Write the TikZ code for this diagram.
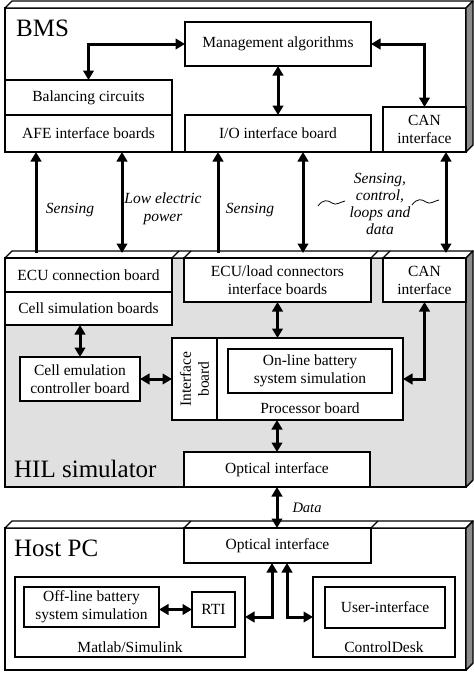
\documentclass[tikz,border=0pt]{standalone}
\usepackage{fontspec}
\setmainfont{Liberation Serif}
\usetikzlibrary{arrows.meta,calc}
\newcommand\nfont{\fontsize{15.5}{18}\selectfont}
\newcommand\bigfont{\fontsize{25}{28}\selectfont}
\definecolor{hilgray}{HTML}{E0E0E0}
\definecolor{sidegray}{HTML}{8C8C8C}
\begin{document}
\begin{tikzpicture}[x=1pt,y=-1pt,
  bigbox/.style={draw, line width=1.5pt, fill=white, inner sep=0pt, outer sep=0pt},
  box/.style={draw, line width=1.4pt, fill=white, inner sep=0pt, outer sep=0pt, align=center, font=\nfont},
  txt/.style={align=center, font=\nfont, inner sep=0pt},
  lab/.style={align=center, font=\nfont\itshape, inner sep=0pt},
  title/.style={anchor=west, font=\bigfont, inner sep=0pt},
  face/.style={line width=1.4pt, fill=white, line join=round},
  side/.style={line width=1.4pt, fill=sidegray, line join=round},
  slant/.style={line width=1.4pt},
  arr/.style={line width=3pt, {Triangle[length=9.5pt,width=10.5pt]}-{Triangle[length=9.5pt,width=10.5pt]}},
  uparr/.style={line width=3pt, -{Triangle[length=9.5pt,width=10.5pt]}},
  wave/.style={line width=0.8pt}]
\useasboundingbox (0,0) rectangle (474,673);

% ---------- big 3D boxes ----------
\node[bigbox, minimum width=461pt, minimum height=144pt] (bms) at (235.5,80) {};
\node[bigbox, fill=hilgray, minimum width=461pt, minimum height=229pt] (hil) at (235.5,372.5) {};
\node[bigbox, minimum width=461pt, minimum height=142pt] (host) at (235.5,599) {};
\foreach \b in {bms,hil,host} {
  \draw[face] (\b.north west) -- ++(7,-7) -- ([shift={(7,-7)}]\b.north east) -- (\b.north east) -- cycle;
  \draw[side] (\b.north east) -- ++(7,-7) -- ([shift={(7,-7)}]\b.south east) -- (\b.south east) -- cycle;
}

% ---------- BMS ----------
\node[title] (bmslab) at (16,28) {BMS};
\node[box, minimum width=186pt, minimum height=44pt] (mgmt) at (278,44) {Management algorithms};
\node[box, minimum width=167pt, minimum height=35pt] (bal) at (88.5,97.5) {Balancing circuits};
\node[box, minimum width=167pt, minimum height=37pt] (afe) at (88.5,133.5) {AFE interface boards};
\node[box, minimum width=186pt, minimum height=37pt] (io) at (278,133.5) {I/O interface board};
\node[box, minimum width=83pt, minimum height=45pt] (canb) at (424.5,129.5) {CAN\\interface};

\draw[arr] (bal.north) |- (mgmt.west);
\draw[arr] (mgmt.east) -| (canb.north);
\draw[arr] (mgmt.south) -- (io.north);

% ---------- HIL ----------
\node[box, minimum width=167pt, minimum height=34pt] (ecuc) at (88.5,275) {ECU connection board};
\node[box, minimum width=167pt, minimum height=33pt] (cellsim) at (88.5,308.5) {Cell simulation boards};
\node[box, minimum width=187pt, minimum height=44pt] (ecul) at (277.5,280) {ECU/load connectors\\interface boards};
\node[box, minimum width=83pt, minimum height=44pt] (canh) at (424.5,280) {CAN\\interface};
\foreach \c in {ecuc.north east, ecul.north west, ecul.north east, canh.north west}
  \draw[slant] (\c) -- ++(7,-7);
\node[box, minimum width=120pt, minimum height=44pt] (cellemu) at (80,379) {Cell emulation\\controller board};
\node[box, minimum width=45pt, minimum height=82pt] (ifb) at (194.5,379) {};
\node[txt, rotate=90] (ifbtxt) at (ifb.center) {Interface\\board};
\node[box, minimum width=186pt, minimum height=82pt] (proc) at (310,379) {};
\node[txt] (proclab) at (310,408) {Processor board};
\node[box, line width=2.2pt, minimum width=164pt, minimum height=44pt] (online) at (310,371) {On-line battery\\system simulation};
\node[box, minimum width=186pt, minimum height=35pt] (opth) at (277,469.5) {Optical interface};
\node[title] (hillab) at (14,469) {HIL simulator};

\draw[arr] (cellemu.north) -- (cellemu.north |- cellsim.south);
\draw[arr] (cellemu.east) -- (ifb.west);
\draw[arr] (ecul.south) -- (ecul.south |- proc.north);
\draw[arr] (canh.south) |- (proc.east);
\draw[arr] (opth.north |- proc.south) -- (opth.north);

% ---------- links BMS - HIL ----------
\coordinate (l1) at ([xshift=31pt,yshift=5pt]ecuc.north west);
\coordinate (l2) at ([xshift=117pt,yshift=5pt]ecuc.north west);
\coordinate (l3) at ([xshift=34pt,yshift=5pt]ecul.north west);
\coordinate (l4) at ([xshift=119pt,yshift=5pt]ecul.north west);
\coordinate (l5) at ([xshift=63pt,yshift=5pt]canh.north west);
\draw[uparr] (l1) -- (l1 |- afe.south);
\draw[arr] (l2) -- (l2 |- afe.south);
\draw[uparr] (l3) -- (l3 |- io.south);
\draw[arr] (l4) -- (l4 |- io.south);
\draw[arr] (l5) -- (l5 |- canb.south);

\node[lab] (sens1) at (70,210) {Sensing};
\node[lab] (lowp) at (163,209) {Low electric\\power};
\node[lab] (sens2) at (250,210) {Sensing};
\node[lab, font=\fontsize{15.5}{17}\selectfont\itshape] (sens3) at (380,204) {Sensing,\\control,\\loops and\\data};
\draw[wave] (318,206) .. controls (323,199) and (328,200) .. (332,203) .. controls (336,206) and (340,202) .. (345,201);
\draw[wave] (412,205) .. controls (417,198) and (422,199) .. (426,202) .. controls (430,205) and (434,201) .. (439,200);

% ---------- Host PC ----------
\node[box, minimum width=187pt, minimum height=35pt] (opt) at (277.5,545.5) {Optical interface};
\foreach \c in {opt.north west, opt.north east}
  \draw[slant] (\c) -- ++(7,-7);
\node[title] (hostlab) at (14,548) {Host PC};
\node[box, minimum width=230pt, minimum height=80pt] (matlab) at (130,617) {};
\node[txt] (matlablab) at (130,647) {Matlab/Simulink};
\node[box, minimum width=135pt, minimum height=40pt] (offline) at (91.5,607) {Off-line battery\\system simulation};
\node[box, minimum width=43pt, minimum height=35pt] (rti) at (213.5,609.5) {RTI};
\node[box, minimum width=142pt, minimum height=80pt] (cdesk) at (384,617) {};
\node[txt] (cdesklab) at (384,647) {ControlDesk};
\node[box, minimum width=120pt, minimum height=41pt] (ui) at (385,607.5) {User-interface};

\draw[arr] (opth.south) -- (opth.south |- opt.north);
\node[lab, font=\fontsize{14.5}{17}\selectfont\itshape] (data) at (307,508) {Data};
\draw[arr] (offline.east |- rti.west) -- (rti.west);
\draw[arr] (matlab.east) -| ([xshift=88pt]opt.south west);
\draw[arr] (cdesk.west) -| ([xshift=103pt]opt.south west);
\end{tikzpicture}
\end{document}
